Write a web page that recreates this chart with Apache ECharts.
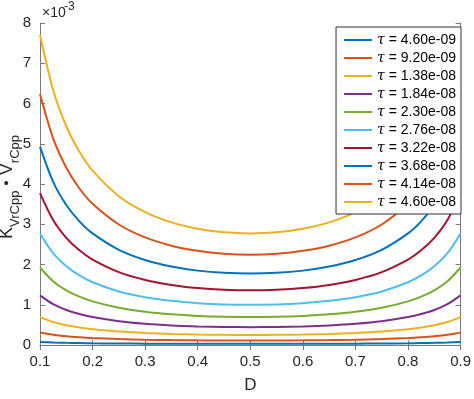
<!DOCTYPE html>
<html>
<head>
    <meta charset="utf-8">
    <title>ECharts</title>
    <script src="https://cdn.jsdelivr.net/npm/echarts@6/dist/echarts.min.js"></script>
</head>
<body style="margin:0">
<div id="main" style="width: 474px;height:399px;"></div>
<script type="text/javascript">

    // D values on the x axis
    var dValues = [0.1, 0.125, 0.15, 0.175, 0.2, 0.25, 0.3, 0.35, 0.4, 0.45, 0.5,
                   0.55, 0.6, 0.65, 0.7, 0.75, 0.8, 0.825, 0.85, 0.875, 0.9];

    // legend names (tau)
    var tauNames = ['4.60e-09', '9.20e-09', '1.38e-08', '1.84e-08', '2.30e-08',
                    '2.76e-08', '3.22e-08', '3.68e-08', '4.14e-08', '4.60e-08'];

    // curve values, in units of 1e-3
    var s1 = [0.077, 0.063, 0.054, 0.048, 0.043, 0.037, 0.033, 0.030, 0.029, 0.028, 0.028,
              0.028, 0.029, 0.030, 0.033, 0.037, 0.043, 0.048, 0.054, 0.063, 0.077];
    var s2 = [0.308, 0.253, 0.217, 0.192, 0.173, 0.148, 0.132, 0.122, 0.116, 0.112, 0.111,
              0.112, 0.116, 0.122, 0.132, 0.148, 0.173, 0.192, 0.217, 0.253, 0.308];
    var s3 = [0.693, 0.570, 0.489, 0.432, 0.390, 0.333, 0.297, 0.274, 0.260, 0.252, 0.249,
              0.252, 0.260, 0.274, 0.297, 0.333, 0.390, 0.432, 0.489, 0.570, 0.693];
    var s4 = [1.232, 1.014, 0.870, 0.768, 0.693, 0.591, 0.528, 0.487, 0.462, 0.448, 0.444,
              0.448, 0.462, 0.487, 0.528, 0.591, 0.693, 0.768, 0.870, 1.014, 1.232];
    var s5 = [1.925, 1.584, 1.359, 1.200, 1.083, 0.924, 0.825, 0.762, 0.722, 0.700, 0.693,
              0.700, 0.722, 0.762, 0.825, 0.924, 1.083, 1.200, 1.359, 1.584, 1.925];
    var s6 = [2.772, 2.281, 1.957, 1.728, 1.559, 1.331, 1.188, 1.097, 1.040, 1.008, 0.998,
              1.008, 1.040, 1.097, 1.188, 1.331, 1.559, 1.728, 1.957, 2.281, 2.772];
    var s7 = [3.773, 3.105, 2.663, 2.352, 2.122, 1.811, 1.617, 1.493, 1.415, 1.372, 1.358,
              1.372, 1.415, 1.493, 1.617, 1.811, 2.122, 2.352, 2.663, 3.105, 3.773];
    var s8 = [4.928, 4.055, 3.479, 3.072, 2.772, 2.365, 2.112, 1.950, 1.848, 1.792, 1.774,
              1.792, 1.848, 1.950, 2.112, 2.365, 2.772, 3.072, 3.479, 4.055, 4.928];
    var s9 = [6.237, 5.132, 4.403, 3.888, 3.508, 2.994, 2.673, 2.467, 2.339, 2.268, 2.245,
              2.268, 2.339, 2.467, 2.673, 2.994, 3.508, 3.888, 4.403, 5.132, 6.237];
    var s10 = [7.700, 6.336, 5.435, 4.800, 4.331, 3.696, 3.300, 3.046, 2.888, 2.800, 2.772,
               2.800, 2.888, 3.046, 3.300, 3.696, 4.331, 4.800, 5.435, 6.336, 7.700];

    var allSeries = [s1, s2, s3, s4, s5, s6, s7, s8, s9, s10];

    var colors = ['#0072BD', '#D95319', '#EDB120', '#7E2F8E', '#77AC30',
                  '#4DBEEE', '#A2142F', '#0072BD', '#D95319', '#EDB120'];

    var font = 'Liberation Sans, Arial, Helvetica, sans-serif';
    var axisGray = '#7a7a7a';
    var textDark = '#262626';

    function makeSeries() {
        var out = [];
        for (var i = 0; i < allSeries.length; i++) {
            var pts = [];
            for (var j = 0; j < dValues.length; j++) {
                pts.push([dValues[j], allSeries[i][j]]);
            }
            out.push({
                name: tauNames[i],
                type: 'line',
                data: pts,
                smooth: 0.3,
                symbol: 'none',
                lineStyle: {width: 2, color: colors[i]},
                itemStyle: {color: colors[i]},
                z: 3
            });
        }
        return out;
    }

    function baseAxis(extra) {
        var a = {
            type: 'value',
            axisLine: {show: true, lineStyle: {color: axisGray, width: 1}},
            axisTick: {show: true, inside: true, length: 5, lineStyle: {color: axisGray}},
            splitLine: {show: false}
        };
        for (var k in extra) a[k] = extra[k];
        return a;
    }

    var myChart = echarts.init(document.getElementById('main'));

    var option = {
        backgroundColor: '#ffffff',
        animation: false,
        color: colors,
        grid: {left: 40, right: 11, top: 23, bottom: 44},
        xAxis: [
            baseAxis({
                min: 0.1, max: 0.9, interval: 0.1,
                axisLabel: {
                    color: textDark, fontSize: 15, fontFamily: font, margin: 9,
                    formatter: function (v) { return v.toFixed(1); }
                },
                name: 'D', nameLocation: 'middle', nameGap: 32,
                nameTextStyle: {color: textDark, fontSize: 17, fontFamily: font}
            }),
            baseAxis({
                min: 0.1, max: 0.9, interval: 0.1, position: 'top',
                axisLabel: {show: false}
            })
        ],
        yAxis: [
            baseAxis({
                min: 0, max: 8, interval: 1,
                axisLabel: {color: textDark, fontSize: 15, fontFamily: font, margin: 9}
            }),
            baseAxis({
                min: 0, max: 8, interval: 1, position: 'right',
                axisLabel: {show: false}
            })
        ],
        legend: {
            orient: 'vertical',
            right: 13, top: 27,
            backgroundColor: '#ffffff',
            borderColor: '#333333',
            borderWidth: 1,
            borderRadius: 0,
            padding: [6, 5, 5, 8],
            icon: 'rect',
            itemWidth: 28,
            itemHeight: 2,
            itemGap: 4,
            data: tauNames,
            formatter: function (name) { return '{t|τ} = ' + name; },
            textStyle: {
                color: '#000', fontSize: 14, fontFamily: font, lineHeight: 14,
                rich: {t: {fontStyle: 'italic', fontSize: 14, lineHeight: 14, fontFamily: 'DejaVu Serif, serif'}}
            }
        },
        graphic: [
            {
                type: 'text',
                x: 42, y: 20,
                style: {
                    text: '×10',
                    fill: textDark,
                    fontSize: 14,
                    fontFamily: font,
                    verticalAlign: 'bottom'
                }
            },
            {
                type: 'text',
                x: 64, y: 13,
                style: {
                    text: '-3',
                    fill: textDark,
                    fontSize: 12,
                    fontFamily: font,
                    verticalAlign: 'bottom'
                }
            },
            {
                type: 'text',
                x: -8, y: 239,
                rotation: Math.PI / 2,
                style: {
                    text: 'K{a|VrCpp} {c|●} V{b|rCpp}',
                    fill: textDark,
                    fontSize: 18,
                    fontFamily: font,
                    lineHeight: 30,
                    rich: {
                        a: {fontSize: 13, fontFamily: font, fill: textDark, lineHeight: 13, verticalAlign: 'bottom'},
                        b: {fontSize: 13, fontFamily: font, fill: textDark, lineHeight: 13, verticalAlign: 'bottom'},
                        c: {fontSize: 9, fontFamily: font, fill: textDark}
                    }
                }
            }
        ],
        series: makeSeries()
    };

    myChart.setOption(option);

</script>
</body>
</html>
